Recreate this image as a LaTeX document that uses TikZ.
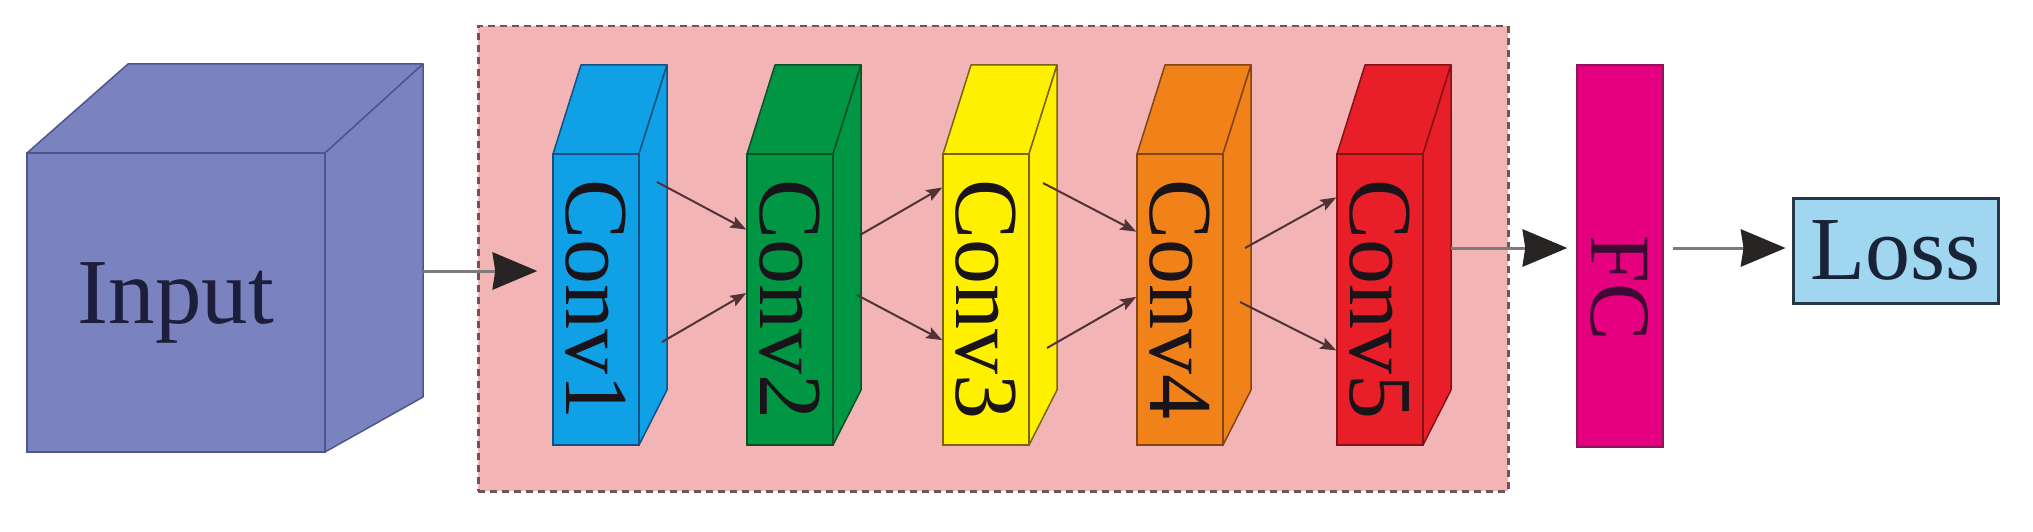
\documentclass[tikz,border=0pt]{standalone}
\usepackage{graphicx}
\usepackage{fontspec}
\setmainfont{Liberation Serif}
\usetikzlibrary{arrows.meta,calc}
\definecolor{cubefill}{RGB}{122,130,192}
\definecolor{cubeedge}{RGB}{78,86,140}
\definecolor{pinkbg}{RGB}{242,180,180}
\definecolor{dashcol}{RGB}{110,85,90}
\definecolor{cblue}{RGB}{16,160,230}
\definecolor{eblue}{RGB}{20,80,130}
\definecolor{cgreen}{RGB}{0,150,68}
\definecolor{egreen}{RGB}{10,80,40}
\definecolor{cyellow}{RGB}{255,240,0}
\definecolor{eyellow}{RGB}{120,100,20}
\definecolor{corange}{RGB}{240,130,25}
\definecolor{eorange}{RGB}{130,70,20}
\definecolor{cred}{RGB}{232,30,40}
\definecolor{ered}{RGB}{130,20,25}
\definecolor{cmag}{RGB}{228,0,127}
\definecolor{emag}{RGB}{140,20,90}
\definecolor{lossfill}{RGB}{160,214,240}
\definecolor{lossedge}{RGB}{40,55,70}
\definecolor{linegrey}{RGB}{125,122,122}
\definecolor{headcol}{RGB}{40,36,36}
\definecolor{inarr}{RGB}{80,50,55}
\definecolor{txt}{RGB}{25,20,25}
\tikzset{
  bigfont/.style={font=\fontsize{90}{100}\selectfont},
  convface/.style={rectangle, inner sep=0pt, minimum width=86pt, minimum height=291pt, line width=1.5pt, text=txt, bigfont},
  facepoly/.style={line width=1.5pt, line join=round},
  bigarrow/.style={draw=linegrey, line width=3pt, -{Stealth[length=45pt,width=38pt,inset=3pt,color=headcol,line width=0pt,line join=miter]}},
  inarrow/.style={draw=inarr, line width=2pt, -{Stealth[length=16pt,width=12pt,inset=3pt]}},
  dashbox/.style={rectangle, fill=pinkbg, draw=dashcol, line width=2.5pt, dash pattern=on 7pt off 5pt, inner sep=0pt, minimum width=1030pt, minimum height=465pt}
}
\begin{document}
\begin{tikzpicture}[x=1pt,y=-1pt]
\useasboundingbox (0,0) rectangle (2033,532);
\fill[white] (0,0) rectangle (2033,532);
% dashed feature box
\node[dashbox, anchor=north west] (feat) at (477,25) {};
% input cube
\filldraw[fill=cubefill, draw=cubeedge, facepoly] (27,153) -- (128,64) -- (423,64) -- (325,153) -- cycle;
\filldraw[fill=cubefill, draw=cubeedge, facepoly] (325,153) -- (423,64) -- (423,397) -- (325,452) -- cycle;
\node[rectangle, inner sep=0pt, minimum width=298pt, minimum height=299pt, fill=cubefill, draw=cubeedge, line width=1.5pt, text={rgb,255:red,28;green,30;blue,60}, font=\fontsize{93}{100}\selectfont] (inp) at (176,302.5) {Input};
% conv blocks
\foreach \n/\xl/\fc/\ec/\lab in {c1/553/cblue/eblue/Conv1, c2/747/cgreen/egreen/Conv2, c3/943/cyellow/eyellow/Conv3, c4/1137/corange/eorange/Conv4, c5/1337/cred/ered/Conv5}{
  \filldraw[fill=\fc, draw=\ec, facepoly] (\xl,154) -- (\xl+28,65) -- (\xl+114,65) -- (\xl+86,154) -- cycle;
  \filldraw[fill=\fc, draw=\ec, facepoly] (\xl+86,154) -- (\xl+114,65) -- (\xl+114,390) -- (\xl+86,445) -- cycle;
  \node[convface, fill=\fc, draw=\ec] (\n) at (\xl+43,299.5) {\rotatebox{-90}{\lab}};
}
% FC
\node[rectangle, inner sep=0pt, minimum width=86pt, minimum height=382pt, fill=cmag, draw=emag, line width=1.5pt] (fc) at (1620,256) {};
\node[text={rgb,255:red,60;green,10;blue,50}, font=\fontsize{86}{100}\selectfont, inner sep=0pt] (fclab) at (1620,288) {\rotatebox{-90}{FC}};
% Loss
\node[rectangle, inner sep=0pt, minimum width=205pt, minimum height=105pt, fill=lossfill, draw=lossedge, line width=3pt, text={rgb,255:red,25;green,35;blue,55}, bigfont] (loss) at (1895.5,250.5) {Loss};
% coordinates for free ends
\coordinate (inout) at (423,271);
\coordinate (c5out) at (1451,248);
\coordinate (fcout) at (1673,248);
\coordinate (s12a) at (657,182);
\coordinate (s12b) at (662,342);
\coordinate (s23a) at (860,235);
\coordinate (s23b) at (857,295);
\coordinate (s34a) at (1043,183);
\coordinate (s34b) at (1047,348);
\coordinate (s45a) at (1245,248);
\coordinate (s45b) at (1240,302);
% big arrows
\draw[bigarrow, shorten >=15pt] (inout) -- (c1.west |- inout);
\draw[bigarrow, shorten >=9pt] (c5out) -- (fc.west |- c5out);
\draw[bigarrow, shorten >=6pt] (fcout) -- (loss.west |- fcout);
% inner arrows
\draw[inarrow] (s12a) -- ($(c2.north west)!0.261!(c2.south west)$);
\draw[inarrow] (s12b) -- ($(c2.north west)!0.478!(c2.south west)$);
\draw[inarrow] (s23a) -- ($(c3.north west)!0.117!(c3.south west)$);
\draw[inarrow] (s23b) -- ($(c3.north west)!0.639!(c3.south west)$);
\draw[inarrow] (s34a) -- ($(c4.north west)!0.268!(c4.south west)$);
\draw[inarrow] (s34b) -- ($(c4.north west)!0.491!(c4.south west)$);
\draw[inarrow] (s45a) -- ($(c5.north west)!0.151!(c5.south west)$);
\draw[inarrow] (s45b) -- ($(c5.north west)!0.674!(c5.south west)$);
\end{tikzpicture}
\end{document}
